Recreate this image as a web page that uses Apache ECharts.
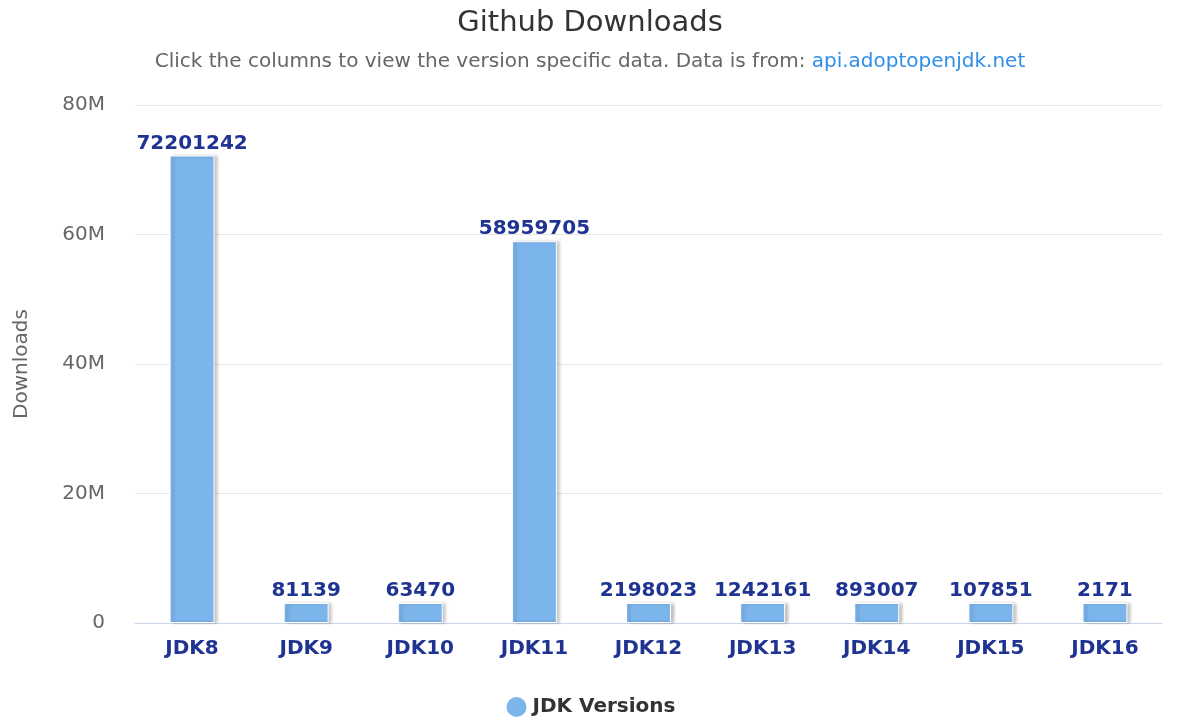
<!DOCTYPE html>
<html><head><meta charset="utf-8">
<script src="https://cdn.jsdelivr.net/npm/echarts@6/dist/echarts.min.js"></script>
<style>html,body{margin:0;padding:0;background:#fff}#c{width:1180px;height:726px}</style>
</head><body><div id="c"></div>
<script>
const categories = ['JDK8','JDK9','JDK10','JDK11','JDK12','JDK13','JDK14','JDK15','JDK16'];
const downloads = [72201242,81139,63470,58959705,2198023,1242161,893007,107851,2171];
const yTicks = [0,20000000,40000000,60000000,80000000];
const linkColor = '#1f3392';
const F = 'DejaVu Sans';
const chart = echarts.init(document.getElementById('c'));
chart.setOption({
  animation:false,
  title:{text:'Github Downloads',left:'center',top:4,
    textStyle:{fontSize:29,fontWeight:'normal',color:'#333',fontFamily:F},
    subtext:'{a|Click the columns to view the version specific data. Data is from: }{b|api.adoptopenjdk.net}',
    itemGap:14,
    subtextStyle:{rich:{a:{fontSize:20,color:'#666',fontFamily:F},b:{fontSize:20,color:'#2f8fe8',fontFamily:F}}}},
  legend:{bottom:2,left:'center',icon:'circle',itemWidth:22,itemHeight:22,
    textStyle:{fontSize:20,fontWeight:'bold',color:'#333',fontFamily:F}},
  grid:{left:135,right:18,top:105,bottom:103},
  xAxis:{type:'category',data:categories,
    axisLine:{lineStyle:{color:'#ccd6eb'}},axisTick:{show:false},
    axisLabel:{fontSize:20,fontWeight:'bold',color:linkColor,margin:16,fontFamily:F}},
  yAxis:{type:'value',min:0,max:80000000,interval:20000000,
    name:'Downloads',nameLocation:'middle',nameGap:103,nameRotate:90,
    nameTextStyle:{fontSize:20,color:'#666',fontFamily:F},
    splitLine:{lineStyle:{color:'#e6e6e6'}},
    axisLabel:{fontSize:20,color:'#666',margin:30,fontFamily:F,
      formatter:v=>yTicks.includes(v)?(v===0?'0':(v/1e6)+'M'):''}},
  series:[{name:'JDK Versions',type:'bar',data:downloads,barWidth:45,barMinHeight:20,
    itemStyle:{color:'#7cb5ec',borderColor:'#fff',borderWidth:1,shadowColor:'rgba(0,0,0,0.25)',shadowOffsetX:3,shadowBlur:3},
    label:{show:true,position:'top',distance:2,fontSize:20,fontWeight:'bold',color:linkColor,fontFamily:F}}]
});
</script></body></html>
